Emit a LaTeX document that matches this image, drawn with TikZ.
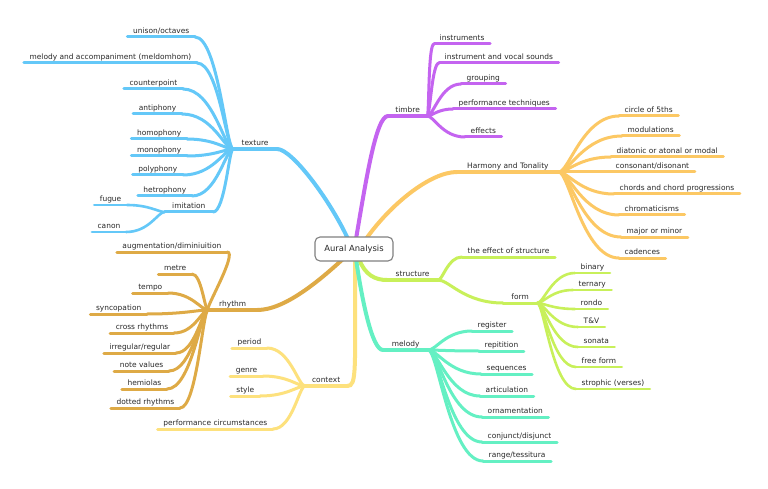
\documentclass[tikz,border=0pt]{standalone}
\usepackage{fontspec}
\setmainfont{DejaVu Sans}
\usetikzlibrary{calc,backgrounds}
\definecolor{cTex}{RGB}{100,200,248}
\definecolor{cTim}{RGB}{196,100,240}
\definecolor{cHar}{RGB}{252,200,100}
\definecolor{cRhy}{RGB}{222,170,70}
\definecolor{cCtx}{RGB}{253,225,125}
\definecolor{cStr}{RGB}{200,240,90}
\definecolor{cMel}{RGB}{100,240,195}
\definecolor{txt}{RGB}{40,40,40}
\definecolor{bord}{RGB}{128,128,128}
\tikzset{
  lbl/.style={inner xsep=5.5pt, inner ysep=1.6pt, text height=5.5pt, text depth=1.6pt,
    font=\fontsize{7.45}{8}\selectfont, text=txt},
  lf/.style={lbl, anchor=south east},
  rt/.style={lbl, anchor=south west},
  mainln/.style={line width=4pt, line cap=round},
  mainul/.style={line width=3.5pt, line cap=round},
  kidln/.style={line width=3pt, line cap=round},
  gkln/.style={line width=2.6pt, line cap=round},
  centre/.style={draw=bord, line width=1.1pt, rounded corners=5pt, fill=white,
    minimum width=78pt, minimum height=24pt, font=\fontsize{8.4}{10}\selectfont, text=txt}
}
\newcommand\mmUL[2]{\draw[#1] (#2.south west) -- (#2.south east);}
\newcommand\llk[3]{\draw[#1] let \p1=(#2), \p2=(#3), \n1={0.15*abs(\x2-\x1)+1}, \n2={max(0.6*abs(\x2-\x1),6)} in (\p1) .. controls +(-\n1,0) and +(\n2,0) .. (\p2);}
\newcommand\rlk[3]{\draw[#1] let \p1=(#2), \p2=(#3), \n1={0.15*abs(\x2-\x1)+1}, \n2={max(0.6*abs(\x2-\x1),6)} in (\p1) .. controls +(\n1,0) and +(-\n2,0) .. (\p2);}
\begin{document}
\begin{tikzpicture}[x=1pt,y=-1pt]
\useasboundingbox (0,0) rectangle (768,489);
% centre
\node[centre] (aa) at (354,249) {Aural Analysis};
\coordinate (aTex) at (348,239);
\coordinate (aTim) at (356,239);
\coordinate (aHar) at (366,239);
\coordinate (aRhy) at (343,259);
\coordinate (aCtx) at (355,259);
\coordinate (aStr) at (359,259);
\coordinate (aMel) at (356,259);
% texture
\node[rt, inner xsep=8.4pt] (tex) at (233,149) {texture};
\node[lf] (t1) at (195,37) {unison/octaves};
\node[lf] (t2) at (197,63) {melody and accompaniment (meldomhom)};
\node[lf] (t3) at (183,89) {counterpoint};
\node[lf] (t4) at (182,114) {antiphony};
\node[lf] (t5) at (187,139) {homophony};
\node[lf] (t6) at (187,156) {monophony};
\node[lf] (t7) at (183,175) {polyphony};
\node[lf] (t8) at (192,196) {hetrophony};
\node[lf, inner xsep=7.4pt] (t9) at (213,212) {imitation};
\node[lf] (t91) at (127,205) {fugue};
\node[lf] (t92) at (126,232) {canon};
% rhythm
\node[rt, inner xsep=11pt] (rhy) at (208,310) {rhythm};
\node[lf] (r1) at (227,252) {augmentation/diminiuition};
\node[lf] (r2) at (192,274) {metre};
\node[lf] (r3) at (168,293) {tempo};
\node[lf] (r4) at (147,314) {syncopation};
\node[lf] (r5) at (174,333) {cross rhythms};
\node[lf] (r6) at (176,353) {irregular/regular};
\node[lf] (r7) at (169,371) {note values};
\node[lf] (r8) at (167,389) {hemiolas};
\node[lf] (r9) at (180,408) {dotted rhythms};
% context
\node[rt, inner xsep=6.9pt] (ctx) at (305,386) {context};
\node[lf] (c1) at (267,348) {period};
\node[lf] (c2) at (263,376) {genre};
\node[lf] (c3) at (260,396) {style};
\node[lf] (c4) at (273,429) {performance circumstances};
% timbre
\node[rt, inner xsep=7.2pt] (tim) at (388,116) {timbre};
\node[rt] (b1) at (434,44) {instruments};
\node[rt] (b2) at (439,63) {instrument and vocal sounds};
\node[rt] (b3) at (461,84) {grouping};
\node[rt] (b4) at (453,109) {performance techniques};
\node[rt] (b5) at (465,137) {effects};
% harmony
\node[rt, inner xsep=10pt] (har) at (457,172) {Harmony and Tonality};
\node[rt] (h1) at (619,116) {circle of 5ths};
\node[rt] (h2) at (622,136) {modulations};
\node[rt] (h3) at (611,157) {diatonic or atonal or modal};
\node[rt] (h4) at (610,172) {consonant/disonant};
\node[rt] (h5) at (614,194) {chords and chord progressions};
\node[rt] (h6) at (619,215) {chromaticisms};
\node[rt] (h7) at (621,237) {major or minor};
\node[rt] (h8) at (619,258) {cadences};
% structure
\node[rt, inner xsep=8.5pt] (str) at (387,280) {structure};
\node[rt] (s1) at (462,257) {the effect of structure};
\node[rt, inner xsep=8.2pt] (frm) at (503,303) {form};
\node[rt] (f1) at (575,273) {binary};
\node[rt] (f2) at (573,290) {ternary};
\node[rt] (f3) at (575,309) {rondo};
\node[rt] (f4) at (578,327) {T\&V};
\node[rt] (f5) at (578,347) {sonata};
\node[rt] (f6) at (576,367) {free form};
\node[rt] (f7) at (576,389) {strophic (verses)};
% melody
\node[rt, inner xsep=8.7pt] (mel) at (383,350) {melody};
\node[rt] (m1) at (472,331) {register};
\node[rt] (m2) at (479,351) {repitition};
\node[rt] (m3) at (481,374) {sequences};
\node[rt] (m4) at (480,396) {articulation};
\node[rt] (m5) at (482,417) {ornamentation};
\node[rt] (m6) at (482,442) {conjunct/disjunct};
\node[rt] (m7) at (483,461) {range/tessitura};
\begin{pgfonlayer}{background}
\fill[white] (0,0) rectangle (768,489);
% main links
\draw[mainln, cTex] (tex.south east) .. controls (292,149) and (330,200) .. (aTex);
\draw[mainln, cTim] (aTim) .. controls (366,180) and (376,116) .. (tim.south west);
\draw[mainln, cHar] (har.south west) .. controls (430,172) and (390,205) .. (aHar);
\draw[mainln, cRhy] (rhy.south east) .. controls (285,310) and (320,280) .. (aRhy);
\draw[mainln, cCtx] (aCtx) .. controls (355,372) and (357,386) .. (ctx.south east);
\draw[mainln, cStr] (aStr) .. controls (365,275) and (375,280) .. (str.south west);
\draw[mainln, cMel] (aMel) .. controls (362,300) and (372,350) .. (mel.south west);
% main underlines
\mmUL{mainul, cTex}{tex}
\mmUL{mainul, cTim}{tim}
\mmUL{mainul, cHar}{har}
\mmUL{mainul, cRhy}{rhy}
\mmUL{mainul, cCtx}{ctx}
\mmUL{mainul, cStr}{str}
\mmUL{mainul, cMel}{mel}
% texture children
\foreach \kk in {t1,t2,t3,t4,t5,t6,t7,t8,t9}{
  \llk{kidln, cTex}{tex.south west}{\kk.south east}
  \mmUL{kidln, cTex}{\kk}
}
\foreach \kk in {t91,t92}{
  \llk{gkln, cTex}{t9.south west}{\kk.south east}
  \mmUL{gkln, cTex}{\kk}
}
% rhythm children
\foreach \kk in {r1,r2,r3,r4,r5,r6,r7,r8,r9}{
  \llk{kidln, cRhy}{rhy.south west}{\kk.south east}
  \mmUL{kidln, cRhy}{\kk}
}
% context children
\foreach \kk in {c1,c2,c3,c4}{
  \llk{kidln, cCtx}{ctx.south west}{\kk.south east}
  \mmUL{kidln, cCtx}{\kk}
}
% timbre children
\foreach \kk in {b1,b2,b3,b4,b5}{
  \rlk{kidln, cTim}{tim.south east}{\kk.south west}
  \mmUL{kidln, cTim}{\kk}
}
% harmony children
\foreach \kk in {h1,h2,h3,h4,h5,h6,h7,h8}{
  \rlk{kidln, cHar}{har.south east}{\kk.south west}
  \mmUL{kidln, cHar}{\kk}
}
% structure children
\foreach \kk in {s1,frm}{
  \rlk{kidln, cStr}{str.south east}{\kk.south west}
  \mmUL{kidln, cStr}{\kk}
}
\foreach \kk in {f1,f2,f3,f4,f5,f6,f7}{
  \rlk{gkln, cStr}{frm.south east}{\kk.south west}
  \mmUL{gkln, cStr}{\kk}
}
% melody children
\foreach \kk in {m1,m2,m3,m4,m5,m6,m7}{
  \rlk{kidln, cMel}{mel.south east}{\kk.south west}
  \mmUL{kidln, cMel}{\kk}
}
\end{pgfonlayer}
\end{tikzpicture}
\end{document}
